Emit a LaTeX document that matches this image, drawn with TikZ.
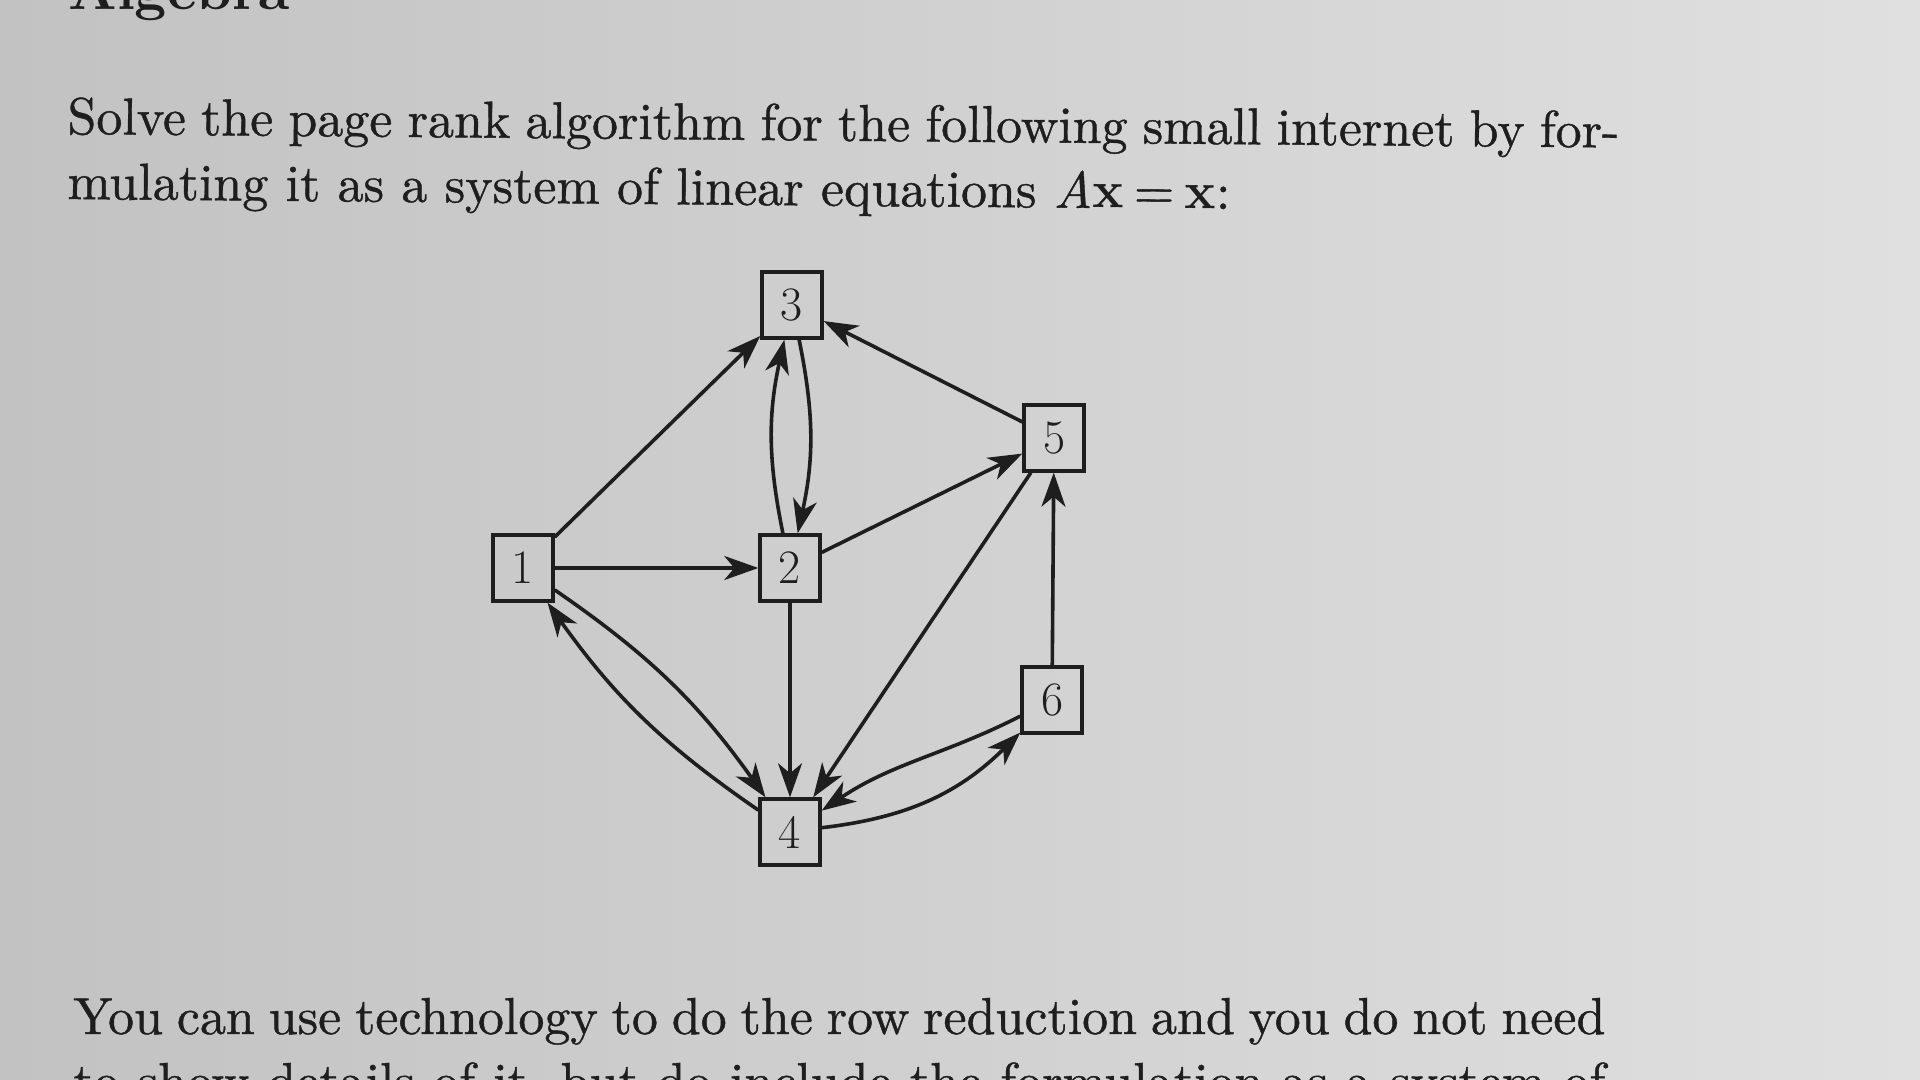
\documentclass[tikz,border=0pt]{standalone}
\usetikzlibrary{arrows.meta}
\definecolor{ink}{RGB}{30,30,30}
\definecolor{bgl}{RGB}{194,194,194}
\definecolor{bgr}{RGB}{224,224,224}
\font\bodyfnt="[lmroman10-regular]:embolden=0.8" at 26pt
\font\bodyit="[lmroman10-italic]:embolden=0.8" at 26pt
\font\bodybf="[lmroman10-bold]" at 26pt
\font\headfnt="[lmroman10-bold]" at 28pt
\begin{document}
\begin{tikzpicture}[x=0.5pt,y=0.5pt,
  pg/.style={draw=ink, line width=1.7pt, minimum width=30pt, minimum height=33pt,
             inner sep=0pt, text=ink, font=\fontsize{24}{28}\selectfont},
  lnk/.style={draw=ink, line width=1.8pt, -{Stealth[length=17pt,width=12pt,inset=5pt]}},
  body/.style={anchor=base west, inner sep=0pt, text=ink, font=\bodyfnt}]
\useasboundingbox (0,0) rectangle (1920,-1080);
\shade[left color=bgl, right color=bgr] (0,0) rectangle (1920,-1080);
\begin{scope}
\clip (0,0) rectangle (1920,-1080);
\node[body, font=\headfnt] (head) at (68,-10) {Algebra};
\node[body, rotate=-0.5] (l1) at (67,-134) {\makebox[776pt][s]{Solve the page rank algorithm for the following small internet by for-}};
\node[body, rotate=-0.5] (l2) at (67,-199) {mulating it as a system of linear equations {\bodyit A}{\bodybf x}\kern5pt=\kern5pt{\bodybf x}:};
\node[body] (l3) at (73,-1034) {\makebox[766pt][s]{You can use technology to do the row reduction and you do not need}};
\node[body] (l4) at (73,-1099) {\makebox[766pt][s]{to show details of it, but do include the formulation as a system of}};
\end{scope}
% pages
\node[pg] (n1) at (523,-568) {1};
\node[pg] (n2) at (790,-568) {2};
\node[pg] (n3) at (792,-305) {3};
\node[pg] (n4) at (790,-832) {4};
\node[pg] (n5) at (1054,-438) {5};
\node[pg] (n6) at (1052,-700) {6};
% links
\draw[lnk] (n1) -- (n3);
\draw[lnk] (n1) -- (n2);
\draw[lnk] (n1) to[bend left=10] (n4);
\draw[lnk] (n4) to[bend left=10] (n1);
\draw[lnk] (n3) to[bend left=12] (n2);
\draw[lnk] (n2) to[bend left=12] (n3);
\draw[lnk] (n2) -- (n5);
\draw[lnk] (n2) -- (n4);
\draw[lnk] (n5) -- (n3);
\draw[lnk] (n5) -- (n4);
\draw[lnk] (n6) -- (n5);
\draw[lnk] (n6) to[out=207,in=34] (n4);
\draw[lnk] (n4) to[bend right=19] (n6);
\end{tikzpicture}
\end{document}
